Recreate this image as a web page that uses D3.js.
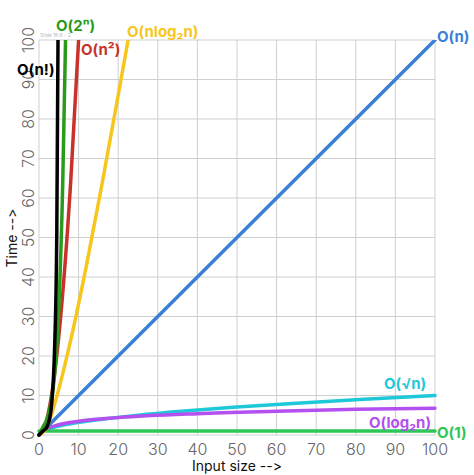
<!DOCTYPE html>
<html><head><meta charset="utf-8">
<script src="https://cdn.jsdelivr.net/npm/d3@7"></script>
<style>body{margin:0;background:#fff}text{font-family:Inter,"Open Sans",sans-serif;font-variant-ligatures:none;font-feature-settings:"calt" 0,"liga" 0}</style>
</head><body><svg id="c" width="474" height="475"></svg>
<script>
// points: [input size, time]
const oFact = [[0,0],[1,1],[2,2],[3,6],[4,24],[4.5,52],[4.8,100]];
const oExp = [[0,0],[1,2],[2,4],[3,8],[4,16],[5,32],[6,64],[6.7,100]];
const oSq = [[0,0],[2,4],[4,16],[6,36],[8,64],[10,100]];
const oNlogN = [[0,0],[2,2],[4,8],[8,24],[12,43],[16,64],[20,86],[22.5,100]];
const oN = [[0,0],[100,100]];
const oSqrt = [[0,0],[1,1],[4,2],[9,3],[16,4],[25,5],[36,6],[49,7],[64,8],[81,9],[100,10]];
const oLog = [[0,0],[1,1],[2,1.6],[5,2.6],[10,3.5],[20,4.4],[40,5.4],[60,6],[80,6.5],[100,6.8]];
const oConst = [[0,1],[100,1]];
const xTicks = [0,10,20,30,40,50,60,70,80,90,100];
const yTicks = [0,10,20,30,40,50,60,70,80,90,100];

const series = [
  {data: oSqrt, color: '#1ec8d8'},
  {data: oLog, color: '#b44ff0'},
  {data: oConst, color: '#2ec656'},
  {data: oN, color: '#3a80d6'},
  {data: oNlogN, color: '#f7c61d'},
  {data: oSq, color: '#c8322b'},
  {data: oExp, color: '#2a9a1c'},
  {data: oFact, color: '#000'},
];
const labels = [
  {t: 'O(n!)', x: 17, y: 75, c: '#000'},
  {t: 'O(2ⁿ)', x: 56, y: 31, c: '#2a9a1c'},
  {t: 'O(n²)', x: 81, y: 55, c: '#c8322b'},
  {t: 'O(nlog₂n)', x: 127, y: 37, c: '#f7c61d'},
  {t: 'O(n)', x: 437, y: 42, c: '#3a80d6'},
  {t: 'O(√n)', x: 384, y: 389, c: '#1ec8d8'},
  {t: 'O(log₂n)', x: 369, y: 428, c: '#b44ff0'},
  {t: 'O(1)', x: 437, y: 438, c: '#2ec656'},
];

const svg = d3.select('#c');
const x = d3.scaleLinear().domain([0,100]).range([39,435]);
const y = d3.scaleLinear().domain([0,100]).range([435,40]);

svg.append('g').selectAll('line').data(xTicks).join('line')
  .attr('x1', d => x(d)).attr('x2', d => x(d)).attr('y1', y(0)).attr('y2', y(100))
  .attr('stroke', '#cfcfcf').attr('stroke-width', 1);
svg.append('g').selectAll('line').data(yTicks).join('line')
  .attr('y1', d => y(d)).attr('y2', d => y(d)).attr('x1', x(0)).attr('x2', x(100))
  .attr('stroke', '#cfcfcf').attr('stroke-width', 1);

svg.append('g').selectAll('text').data(xTicks).join('text')
  .attr('x', d => x(d)).attr('y', 455).attr('text-anchor', 'middle')
  .attr('font-size', 16).attr('font-weight', 300).attr('fill', '#666').text(d => d);
svg.append('g').selectAll('text').data(yTicks).join('text')
  .attr('transform', d => `translate(34,${y(d)}) rotate(-90)`).attr('text-anchor', 'middle')
  .attr('font-size', 16).attr('font-weight', 300).attr('fill', '#666').text(d => d);

svg.append('text').attr('x', 40).attr('y', 37).attr('font-size', 5).attr('fill', '#bbb').text('Slide 16:9 - 2');

svg.append('clipPath').attr('id', 'clip').append('rect')
  .attr('x', 0).attr('y', y(100)).attr('width', 474).attr('height', y(0) - y(100) + 5);

const line = d3.line().x(d => x(d[0])).y(d => y(d[1])).curve(d3.curveMonotoneX);
svg.append('g').attr('clip-path', 'url(#clip)').selectAll('path').data(series).join('path')
  .attr('d', d => line(d.data)).attr('fill', 'none')
  .attr('stroke', d => d.color).attr('stroke-width', 3.5).attr('stroke-linecap', 'round');

svg.append('g').selectAll('text').data(labels).join('text')
  .attr('x', d => d.x).attr('y', d => d.y).attr('fill', d => d.c)
  .attr('font-size', 15).attr('font-weight', 700).text(d => d.t);

svg.append('text').attr('x', 237).attr('y', 471).attr('text-anchor', 'middle')
  .attr('font-size', 14).attr('fill', '#111').text('Input size -->');
svg.append('text').attr('transform', 'translate(17,238) rotate(-90)').attr('text-anchor', 'middle')
  .attr('font-size', 14).attr('fill', '#111').text('Time -->');
</script></body></html>
